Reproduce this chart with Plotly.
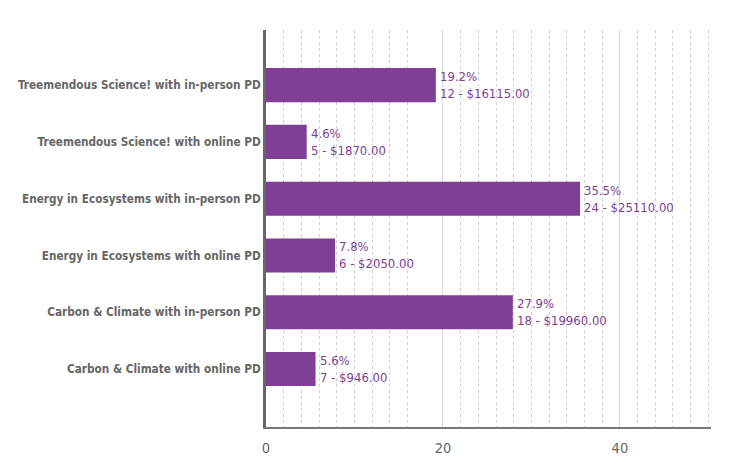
import plotly.graph_objects as go

categories = [
    "Treemendous Science! with in-person PD",
    "Treemendous Science! with online PD",
    "Energy in Ecosystems with in-person PD",
    "Energy in Ecosystems with online PD",
    "Carbon & Climate with in-person PD",
    "Carbon & Climate with online PD",
]
percents = [19.2, 4.6, 35.5, 7.8, 27.9, 5.6]
counts = [12, 5, 24, 6, 18, 7]
amounts = [16115.00, 1870.00, 25110.00, 2050.00, 19960.00, 946.00]
major_ticks = [0, 20, 40]
minor_ticks = [2, 4, 6, 8, 10, 12, 14, 16, 22, 24, 26, 28, 30, 32, 34, 36, 38, 42, 44, 46, 48, 50]

labels = [f"{p:.1f}%<br>{c} - ${a:.2f}" for p, c, a in zip(percents, counts, amounts)]

PURPLE = "#7e3f94"
GRAY = "#666666"
FONT = "DejaVu Sans Condensed, DejaVu Sans, sans-serif"

fig = go.Figure(
    go.Bar(
        x=percents,
        y=categories,
        orientation="h",
        marker=dict(color=PURPLE, line=dict(width=0)),
        width=0.6,
        hoverinfo="skip",
    )
)

for p, cat, lab in zip(percents, categories, labels):
    fig.add_annotation(
        x=p, y=cat, text=lab, showarrow=False,
        xanchor="left", yanchor="middle", align="left", xshift=2,
        font=dict(color=PURPLE, size=13, family=FONT),
    )

# Page body has an 8px default margin; compensate so the plot sits where the reference does.
fig.update_layout(
    width=730,
    height=468,
    margin=dict(l=258, r=27, t=22, b=49, autoexpand=False),
    paper_bgcolor="white",
    plot_bgcolor="white",
    showlegend=False,
)

fig.update_xaxes(
    range=[0, 50.3],
    tickvals=major_ticks,
    ticktext=[str(t) for t in major_ticks],
    tickfont=dict(color=GRAY, size=14.5, family=FONT),
    ticks="",
    ticklen=0,
    ticklabelstandoff=7,
    showgrid=True,
    gridcolor="#d9d9d9",
    gridwidth=1,
    zeroline=False,
    showline=True,
    linecolor="#777777",
    linewidth=2,
    minor=dict(tickvals=minor_ticks, showgrid=True, gridcolor="#d0d0d0", griddash="dot", gridwidth=1),
)

fig.update_yaxes(
    categoryorder="array",
    categoryarray=categories,
    range=[6.02, -0.97],
    tickfont=dict(color=GRAY, size=11.7, family=FONT, weight="bold"),
    ticks="",
    ticklen=0,
    ticklabelstandoff=0,
    showgrid=False,
    zeroline=False,
    showline=True,
    linecolor=GRAY,
    linewidth=3,
)

fig.write_html("out.html")
